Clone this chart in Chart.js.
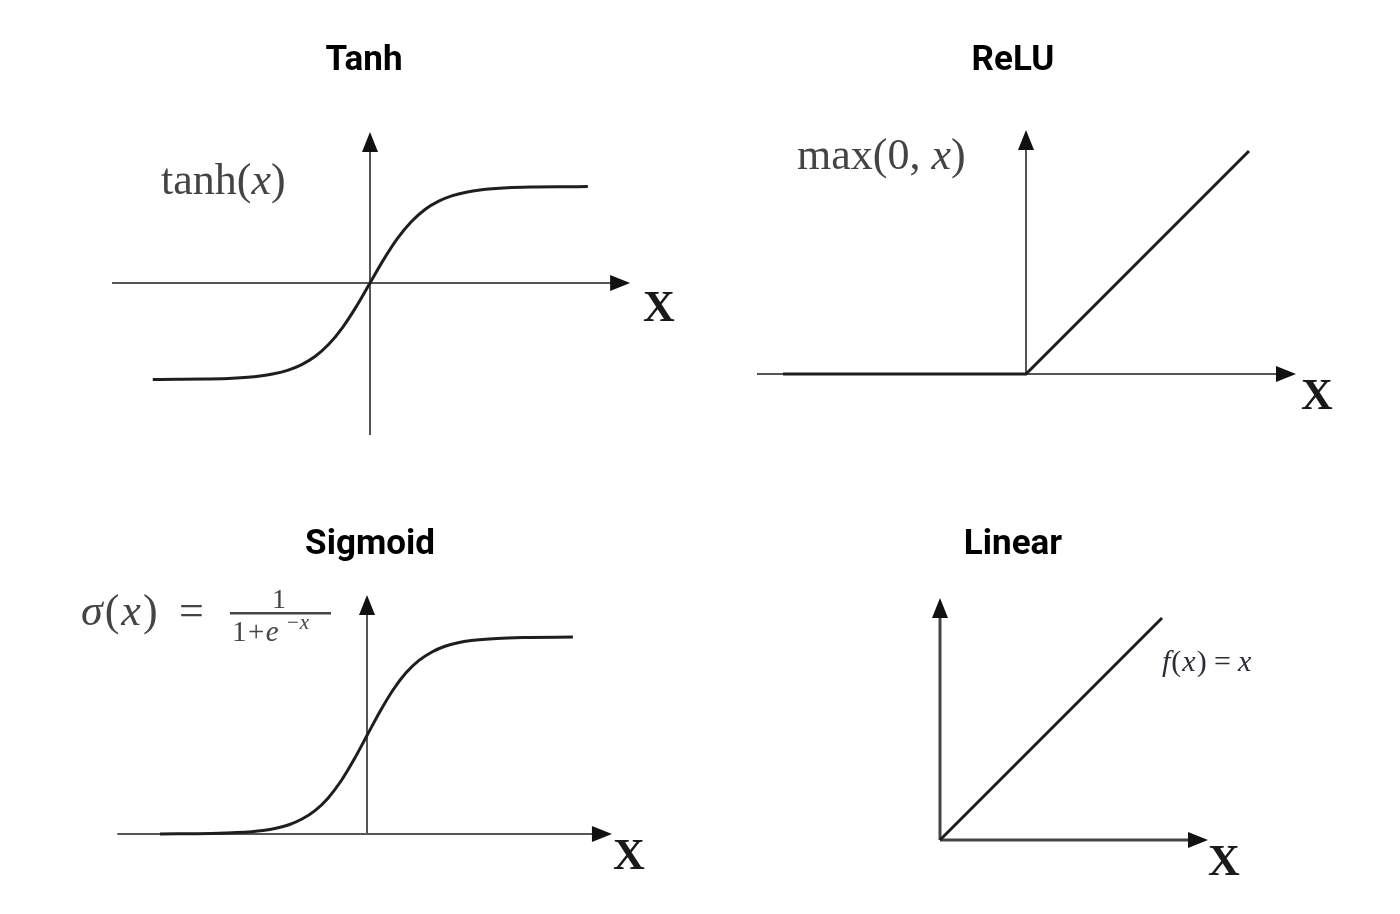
<!DOCTYPE html>
<html>
<head>
<meta charset="utf-8">
<script src="https://cdn.jsdelivr.net/npm/chart.js@4/dist/chart.umd.min.js"></script>
<style>
  html, body { margin:0; padding:0; background:#fff; }
  #wrap { position:relative; width:1400px; height:914px; }
  canvas { position:absolute; }
</style>
</head>
<body>
<div id="wrap">
  <canvas id="c0" width="700" height="457" style="left:0;top:0"></canvas>
  <canvas id="c1" width="700" height="457" style="left:700px;top:0"></canvas>
  <canvas id="c2" width="700" height="457" style="left:0;top:457px"></canvas>
  <canvas id="c3" width="700" height="457" style="left:700px;top:457px"></canvas>
</div>
<script>
// ---- data ----
const panelTitles = ['Tanh', 'ReLU', 'Sigmoid', 'Linear'];

const tanhX = [-3.95, -3.5, -3, -2.5, -2, -1.75, -1.5, -1.25, -1, -0.75, -0.5, -0.25, 0, 0.25, 0.5, 0.75, 1, 1.25, 1.5, 1.75, 2, 2.5, 3, 3.5, 3.96];
const tanhY = [-0.999, -0.998, -0.995, -0.987, -0.964, -0.941, -0.905, -0.848, -0.762, -0.635, -0.462, -0.245, 0, 0.245, 0.462, 0.635, 0.762, 0.848, 0.905, 0.941, 0.964, 0.987, 0.995, 0.998, 0.999];

const reluX = [-4.86, 0, 4.46];
const reluY = [0, 0, 4.46];

const sigmoidX = [-7.96, -6, -5, -4, -3.5, -3, -2.5, -2, -1.5, -1, -0.5, 0, 0.5, 1, 1.5, 2, 2.5, 3, 3.5, 4, 5, 6, 7.92];
const sigmoidY = [0.0003, 0.0025, 0.007, 0.018, 0.029, 0.047, 0.076, 0.119, 0.182, 0.269, 0.378, 0.5, 0.622, 0.731, 0.818, 0.881, 0.924, 0.953, 0.971, 0.982, 0.993, 0.9975, 0.9996];

const linearX = [0, 4.44];
const linearY = [0, 4.44];

// ---- layout / style per panel ----
const SERIF = '"Liberation Serif", "DejaVu Serif", serif';
const panels = [
  { id:'c0', title:panelTitles[0], tx:364, ty:61, xs:tanhX, ys:tanhY, smooth:true,
    ox:370, oy:283, ux:55, uy:96.5,
    hAxis:[-4.69, 4.73], vAxis:[-1.575, 1.565], axisColor:'#555', axisWidth:2,
    xLabel:[659, 310],
    label(ctx){ rich(ctx, 161, 194, [['tanh(', '44px '+SERIF], ['x', 'italic 44px '+SERIF], [')', '44px '+SERIF]], '#444', 0); } },
  { id:'c1', title:panelTitles[1], tx:313, ty:61, xs:reluX, ys:reluY, smooth:false,
    ox:326, oy:374, ux:50, uy:50,
    hAxis:[-5.38, 5.4], vAxis:[0, 4.88], axisColor:'#555', axisWidth:2,
    xLabel:[617, 398],
    label(ctx){ rich(ctx, 97, 169, [['max(0, ', '44px '+SERIF], ['x', 'italic 44px '+SERIF], [')', '44px '+SERIF]], '#444', 0); } },
  { id:'c2', title:panelTitles[2], tx:370, ty:88, xs:sigmoidX, ys:sigmoidY, smooth:true,
    ox:367, oy:377, ux:26, uy:197,
    hAxis:[-9.6, 9.42], vAxis:[0, 1.213], axisColor:'#555', axisWidth:2,
    xLabel:[629, 401],
    label(ctx){
      rich(ctx, 81, 168, [['\u03C3', 'italic 44px '+SERIF], ['(', '44px '+SERIF], ['x', 'italic 44px '+SERIF], [')', '44px '+SERIF]], '#444', 2);
      rich(ctx, 179, 168, [['=', '44px '+SERIF]], '#444', 0);
      ctx.save();
      ctx.fillStyle = '#444'; ctx.textAlign = 'center';
      ctx.font = '28px '+SERIF; ctx.fillText('1', 279, 151);
      ctx.fillRect(230, 155, 101, 2.5);
      ctx.restore();
      rich(ctx, 232, 184, [['1', '29px '+SERIF], ['+', '29px '+SERIF], ['e', 'italic 29px '+SERIF]], '#444', 1.5);
      rich(ctx, 287, 172, [['\u2212', '21px '+SERIF], ['x', 'italic 21px '+SERIF]], '#444', 1);
    } },
  { id:'c3', title:panelTitles[3], tx:313, ty:88, xs:linearX, ys:linearY, smooth:false,
    ox:240, oy:383, ux:50, uy:50,
    hAxis:[0, 5.36], vAxis:[0, 4.84], axisColor:'#444', axisWidth:3,
    xLabel:[524, 407],
    label(ctx){
      rich(ctx, 462, 214, [['f', 'italic 30px '+SERIF], ['(', '30px '+SERIF], ['x', 'italic 30px '+SERIF], [')', '30px '+SERIF]], '#2c2c36', 1);
      rich(ctx, 514, 214, [['=', '30px '+SERIF]], '#2c2c36', 0);
      rich(ctx, 538, 214, [['x', 'italic 30px '+SERIF]], '#2c2c36', 0);
    } }
];

function rich(ctx, x, y, parts, color, spacing) {
  ctx.save();
  ctx.fillStyle = color; ctx.textAlign = 'left'; ctx.textBaseline = 'alphabetic';
  let cx = x;
  for (const [t, f] of parts) {
    ctx.font = f;
    for (const ch of t) { ctx.fillText(ch, cx, y); cx += ctx.measureText(ch).width + spacing; }
  }
  ctx.restore();
}

function arrowHead(ctx, tipX, tipY, dir) {
  const L = 20, w = 8;
  ctx.beginPath();
  if (dir === 'right') { ctx.moveTo(tipX, tipY); ctx.lineTo(tipX - L, tipY - w); ctx.lineTo(tipX - L, tipY + w); }
  else { ctx.moveTo(tipX, tipY); ctx.lineTo(tipX - w, tipY + L); ctx.lineTo(tipX + w, tipY + L); }
  ctx.closePath(); ctx.fill();
}

const axesPlugin = {
  id: 'arrowAxes',
  beforeDatasetsDraw(chart) {
    const p = chart.config.options.plugins.arrowAxes.panel;
    const ctx = chart.ctx, sx = chart.scales.x, sy = chart.scales.y;
    const x0 = sx.getPixelForValue(0), y0 = sy.getPixelForValue(0);
    const hx1 = sx.getPixelForValue(p.hAxis[0]), hx2 = sx.getPixelForValue(p.hAxis[1]);
    const vy1 = sy.getPixelForValue(p.vAxis[0]), vy2 = sy.getPixelForValue(p.vAxis[1]);
    ctx.save();
    ctx.strokeStyle = p.axisColor; ctx.lineWidth = p.axisWidth; ctx.fillStyle = '#111';
    ctx.beginPath(); ctx.moveTo(hx1, y0); ctx.lineTo(hx2 - 14, y0); ctx.stroke();
    ctx.beginPath(); ctx.moveTo(x0, vy1); ctx.lineTo(x0, vy2 + 14); ctx.stroke();
    arrowHead(ctx, hx2, y0, 'right');
    arrowHead(ctx, x0, vy2, 'up');
    ctx.restore();
  },
  afterDraw(chart) {
    const p = chart.config.options.plugins.arrowAxes.panel;
    const ctx = chart.ctx;
    ctx.save();
    ctx.fillStyle = '#000'; ctx.textAlign = 'center'; ctx.textBaseline = 'middle';
    ctx.font = 'bold 35px Roboto, "Liberation Sans", sans-serif';
    ctx.fillText(p.title, p.tx, p.ty);
    ctx.font = 'bold 44px ' + SERIF; ctx.fillStyle = '#1a1a1a';
    ctx.fillText('X', p.xLabel[0], p.xLabel[1]);
    ctx.restore();
    p.label(ctx);
  }
};

for (const p of panels) {
  const W = 700, H = 457;
  new Chart(document.getElementById(p.id), {
    type: 'scatter',
    data: { datasets: [{
      data: p.xs.map((x, i) => ({ x: x, y: p.ys[i] })),
      showLine: true, borderColor: '#1e1e1e', borderWidth: 3, pointRadius: 0,
      cubicInterpolationMode: p.smooth ? 'monotone' : 'default', tension: 0,
      fill: false, clip: false
    }] },
    options: {
      responsive: false, animation: false, events: [],
      layout: { padding: 0 },
      plugins: { legend: { display: false }, tooltip: { enabled: false }, title: { display: false },
                 arrowAxes: { panel: p } },
      scales: {
        x: { type: 'linear', display: false, min: -p.ox / p.ux, max: (W - p.ox) / p.ux },
        y: { type: 'linear', display: false, min: -(H - p.oy) / p.uy, max: p.oy / p.uy }
      }
    },
    plugins: [axesPlugin]
  });
}
</script>
</body>
</html>
